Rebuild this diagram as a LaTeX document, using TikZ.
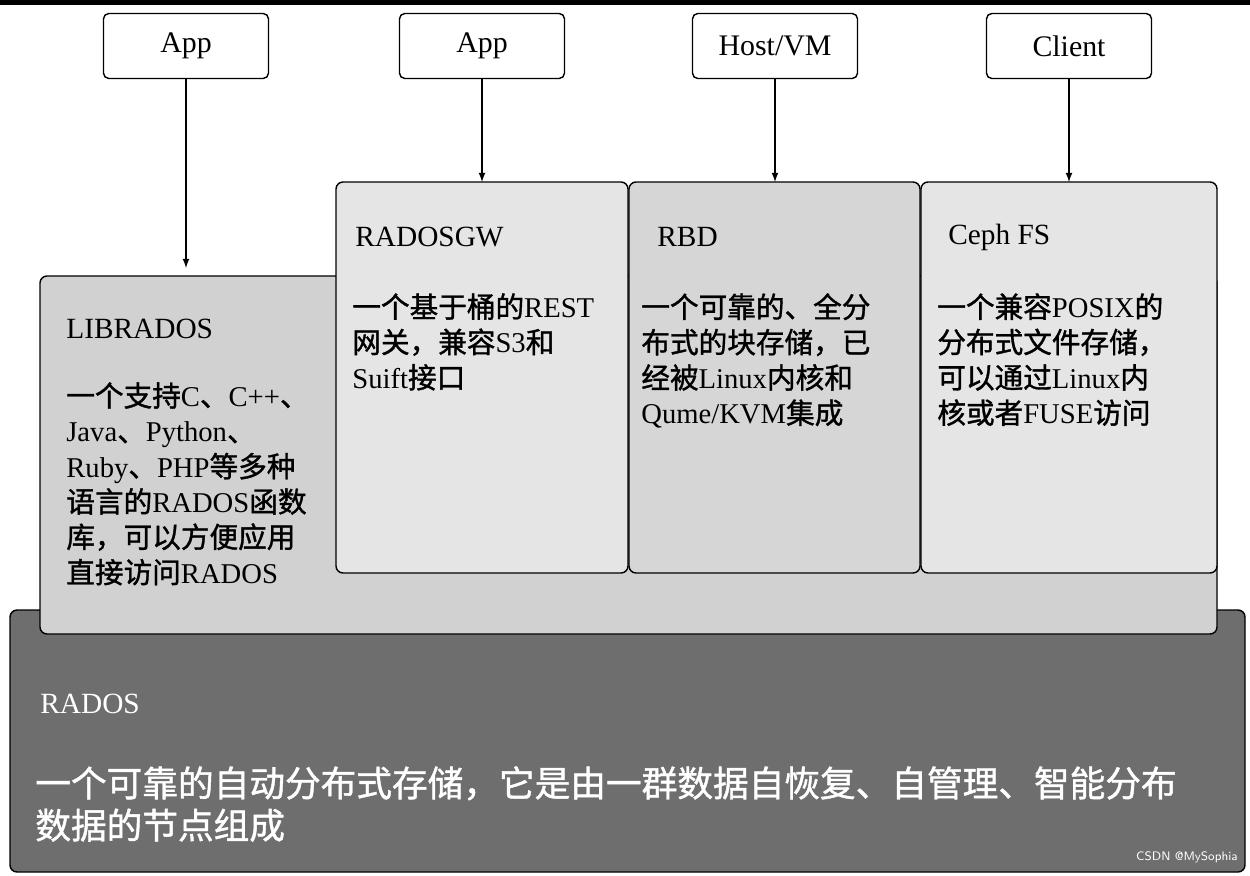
\documentclass[tikz,border=0pt]{standalone}
\usepackage{fontspec}
\setmainfont{Liberation Serif}
\newfontfamily\cjk[BoldFont={Noto Sans CJK SC},BoldFeatures={FakeBold=1.2}]{Noto Sans CJK SC}
\newcommand\zh[1]{{\cjk\bfseries #1}}
\begin{document}
\begin{tikzpicture}[x=0.02cm,y=-0.02cm,
  top/.style={draw,rounded corners=3pt,fill=white,line width=0.8pt,minimum width=3.3cm,minimum height=1.3cm,font=\fontsize{17}{20}\selectfont},
  panel/.style={draw,rounded corners=4pt,line width=0.8pt},
  txt/.style={anchor=north west,align=left,inner sep=0pt,font=\fontsize{16.3}{20.1}\selectfont},
  ttl/.style={anchor=west,inner sep=0pt,font=\fontsize{16.7}{19}\selectfont},
  arr/.style={-latex,line width=0.8pt}]
\useasboundingbox (0,0) rectangle (1250,875);
\fill[black] (0,0) rectangle (1250,5);
% RADOS
\draw[panel,fill=black!57] (10,610) rectangle (1245,872);
\node[ttl,text=white] (radosT) at (40,704) {RADOS};
\node[txt,text=white,font=\fontsize{20.3}{24}\selectfont] (radosX) at (35,766) {\zh{一个可靠的自动分布式存储，它是由一群数据自恢复、自管理、智能分布}\\\zh{数据的节点组成}};
% LIBRADOS
\draw[panel,fill=black!18] (40,276) rectangle (1217,634);
\coordinate (libtop) at (186,276);
\node[ttl] (libT) at (66,329) {LIBRADOS};
\node[txt] (libX) at (66,382) {\zh{一个支持}C\zh{、}C++\zh{、}\\Java\zh{、}Python\zh{、}\\Ruby\zh{、}PHP\zh{等多种}\\\zh{语言的}RADOS\zh{函数}\\\zh{库，可以方便应用}\\\zh{直接访问}RADOS};
% panels
\draw[panel,fill=black!10] (336,182) rectangle (628,573);
\draw[panel,fill=black!16] (629,182) rectangle (920,573);
\draw[panel,fill=black!10] (921,182) rectangle (1217,573);
\coordinate (gwtop) at (482,182);
\coordinate (rbdtop) at (775,182);
\coordinate (fstop) at (1069,182);
\node[ttl] (gwT) at (355,237) {RADOSGW};
\node[txt] (gwX) at (352,293) {\zh{一个基于桶的}REST\\\zh{网关，兼容}S3\zh{和}\\Suift\zh{接口}};
\node[ttl] (rbdT) at (657,237) {RBD};
\node[txt] (rbdX) at (641,293) {\zh{一个可靠的、全分}\\\zh{布式的块存储，已}\\\zh{经被}Linux\zh{内核和}\\Qume/KVM\zh{集成}};
\node[ttl] (fsT) at (948,237) {Ceph FS};
\node[txt] (fsX) at (937,293) {\zh{一个兼容}POSIX\zh{的}\\\zh{分布式文件存储，}\\\zh{可以通过}Linux\zh{内}\\\zh{核或者}FUSE\zh{访问}};
% top boxes
\node[top] (a1) at (186,46) {App};
\node[top] (a2) at (482,46) {App};
\node[top] (a3) at (775,46) {Host/VM};
\node[top] (a4) at (1069,46) {Client};
\draw[arr] (a1) -- (186,268);
\draw[arr] (a2) -- (gwtop);
\draw[arr] (a3) -- (rbdtop);
\draw[arr] (a4) -- (fstop);
\node[anchor=east,text=white,font=\fontsize{7}{8}\sffamily,inner sep=0pt] (wm) at (1238,857) {CSDN @MySophia};
\end{tikzpicture}
\end{document}
